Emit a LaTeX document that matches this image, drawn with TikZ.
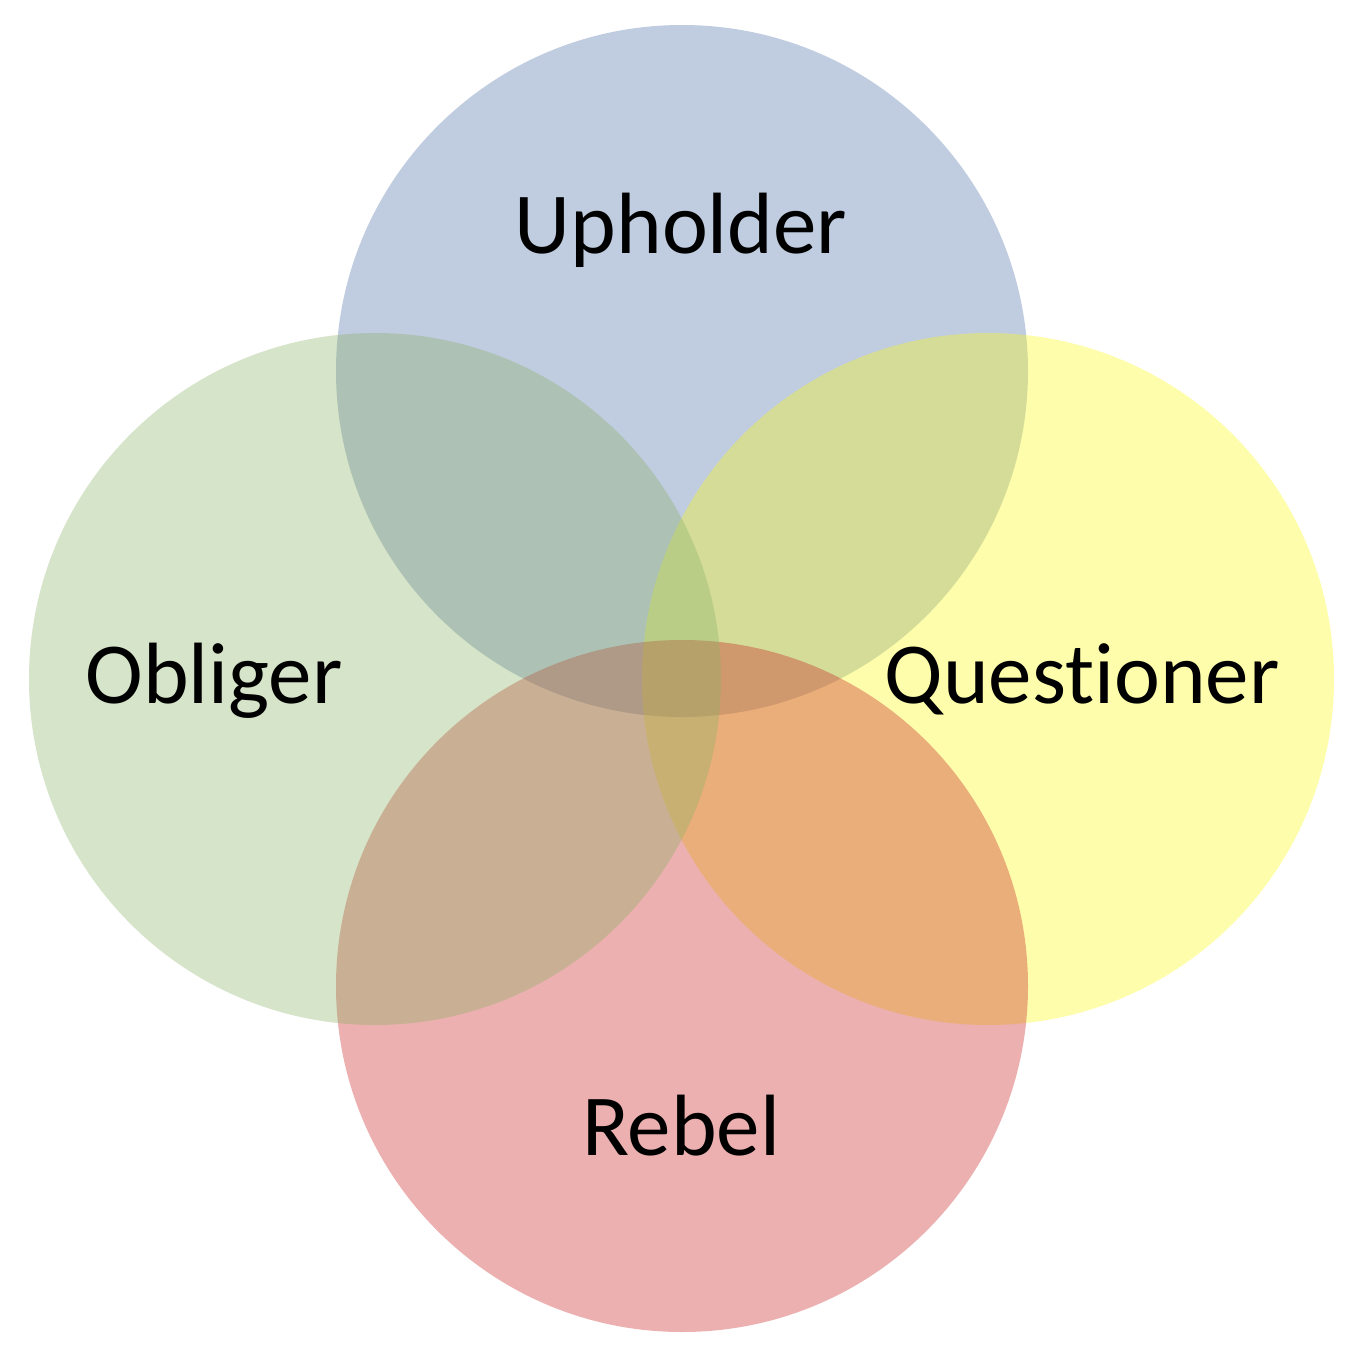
\documentclass[tikz,border=0pt]{standalone}
\usepackage{fontspec}
\setmainfont[Ligatures=NoCommon]{Carlito}
\definecolor{cUph}{RGB}{75,109,166}
\definecolor{cObl}{RGB}{138,178,101}
\definecolor{cQue}{RGB}{252,252,20}
\definecolor{cReb}{RGB}{201,29,29}
\begin{document}
\begin{tikzpicture}[x=0.5pt,y=-0.5pt,
  venn/.style={fill=#1,fill opacity=0.35,draw=none},
  lbl/.style={anchor=base,inner sep=0pt,font=\fontsize{43.5}{50}\selectfont,text=black}]
\useasboundingbox (0,0) rectangle (1371,1371);
\fill[white] (0,0) rectangle (1371,1371);
\path[venn=cUph] (682,371) circle (346);
\path[venn=cQue] (988,679) circle (346);
\path[venn=cReb] (682,986) circle (346);
\path[venn=cObl] (375,679) circle (346);
\node[lbl] (uph) at (681,253) {Upholder};
\node[lbl] (obl) at (214,703) {Obliger};
\node[lbl] (que) at (1082,703) {Questioner};
\node[lbl] (reb) at (681,1155) {Rebel};
\end{tikzpicture}
\end{document}
